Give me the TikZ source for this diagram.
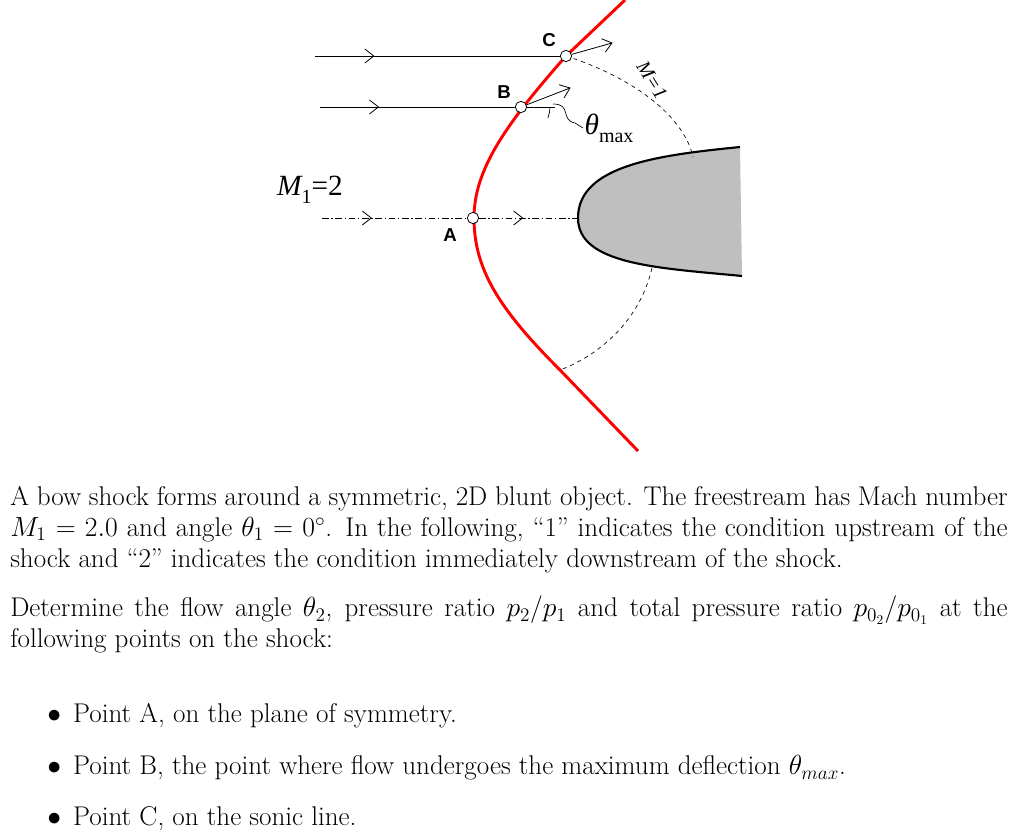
\documentclass[tikz,border=0pt]{standalone}
\usepackage{fontspec}
\newfontfamily\arialf{Liberation Sans}
\newfontfamily\timesf{Liberation Serif}
\usetikzlibrary{decorations.markings,decorations.pathmorphing}
\begin{document}
\begin{tikzpicture}[x=0.75pt,y=-0.75pt,
  pt/.style={circle,draw,fill=white,inner sep=0pt,minimum size=8.5pt,line width=0.6pt},
  lbl/.style={font=\arialf\bfseries\fontsize{14}{16}\selectfont},
  stream/.style={line width=0.6pt},
  dd/.style={dash pattern=on 5pt off 2pt on 1pt off 2pt},
  chev/.style={postaction={decorate},decoration={markings,mark=at position #1 with {\draw[line width=0.6pt,solid] (-9,-7)--(0,0)--(-9,7);}}},
  body/.style={font=\fontsize{20.3}{23.25}\selectfont}]
\useasboundingbox (0,0) rectangle (1024,839);
% shock
\draw[red,line width=2.2pt] (625,0) -- (566,56) .. controls (505,125) and (474,170) .. (474,218) .. controls (474,270) and (500,310) .. (560,370) -- (638,451);
% body
\fill[black!25] (740,147) .. controls (660,155) and (578,165) .. (578,218) .. controls (578,265) and (660,268) .. (742,276) -- cycle;
\draw[line width=1.6pt] (740,147) .. controls (660,155) and (578,165) .. (578,218) .. controls (578,265) and (660,268) .. (742,276);
\coordinate (nose) at (578,218);
% sonic line
\draw[dashed,line width=0.5pt] (566,56) .. controls (640,80) and (685,120) .. (693,157);
\draw[dashed,line width=0.5pt] (652,268) .. controls (640,320) and (600,355) .. (560,370);
\node[rotate=-58,font=\timesf\itshape\fontsize{15}{17}\selectfont,inner sep=0pt] (m1) at (652,80) {M=1};
% points
\node[pt] (C) at (566,56) {};
\node[pt] (B) at (521,107) {};
\node[pt] (A) at (473,218) {};
\coordinate (cs) at (315,56);
\coordinate (bs) at (320,107);
\coordinate (as) at (322,218);
\coordinate (be) at (555,107);
\coordinate (ce) at (612,43);
\coordinate (bd) at (570,88);
\draw[stream,chev=0.24] (cs) -- (C);
\draw[stream,chev=0.3] (bs) -- (B);
\draw[stream] (B) -- (be);
\draw[stream,chev=1] (C) -- (ce);
\draw[stream,chev=1] (B) -- (bd);
\draw[stream,dd,chev=0.34] (as) -- (A);
\draw[stream,dd,chev=0.44] (A) -- (nose);
% angle
\draw[line width=0.5pt] (550,107) arc[start angle=0,end angle=22,radius=29];
\node[font=\timesf\fontsize{22}{24}\selectfont,anchor=west,inner sep=1pt] (th) at (583,128) {\itshape θ\upshape\raisebox{-0.6ex}{\fontsize{15}{17}\selectfont max}};
\draw[line width=0.5pt] (553,104) .. controls (572,104) and (560,120) .. (575,123) -- (th.west);
% labels
\node[lbl] at (549,40) {C};
\node[lbl] at (504,92) {B};
\node[lbl] at (450,235) {A};
\node[font=\timesf\fontsize{22}{24}\selectfont] at (310,190) {\itshape M\raisebox{-0.6ex}{\fontsize{15}{17}\selectfont\upshape 1}\upshape=2};
% text
\node[body,anchor=north west,text width=748pt,align=justify,inner sep=0pt] (p1) at (10,486) {A bow shock forms around a symmetric, 2D blunt object. The freestream has Mach number\linebreak $M_1=2.0$ and angle $\theta_1=0^\circ$. In the following, ``1'' indicates the condition upstream of the\linebreak shock and ``2'' indicates the condition immediately downstream of the shock.};
\node[body,anchor=north west,text width=748pt,align=justify,inner sep=0pt] (p2) at (10,596) {Determine the flow angle $\theta_2$, pressure ratio $p_2/p_1$ and total pressure ratio $p_{0_2}/p_{0_1}$ at the\linebreak following points on the shock:};
\node[body,anchor=west,inner sep=0pt] (b1) at (47,716) {$\bullet$\hspace{9pt}Point A, on the plane of symmetry.};
\node[body,anchor=west,inner sep=0pt] (b2) at (47,768) {$\bullet$\hspace{9pt}Point B, the point where flow undergoes the maximum deflection $\theta_{max}$.};
\node[body,anchor=west,inner sep=0pt] (b3) at (47,819) {$\bullet$\hspace{9pt}Point C, on the sonic line.};
\end{tikzpicture}
\end{document}
